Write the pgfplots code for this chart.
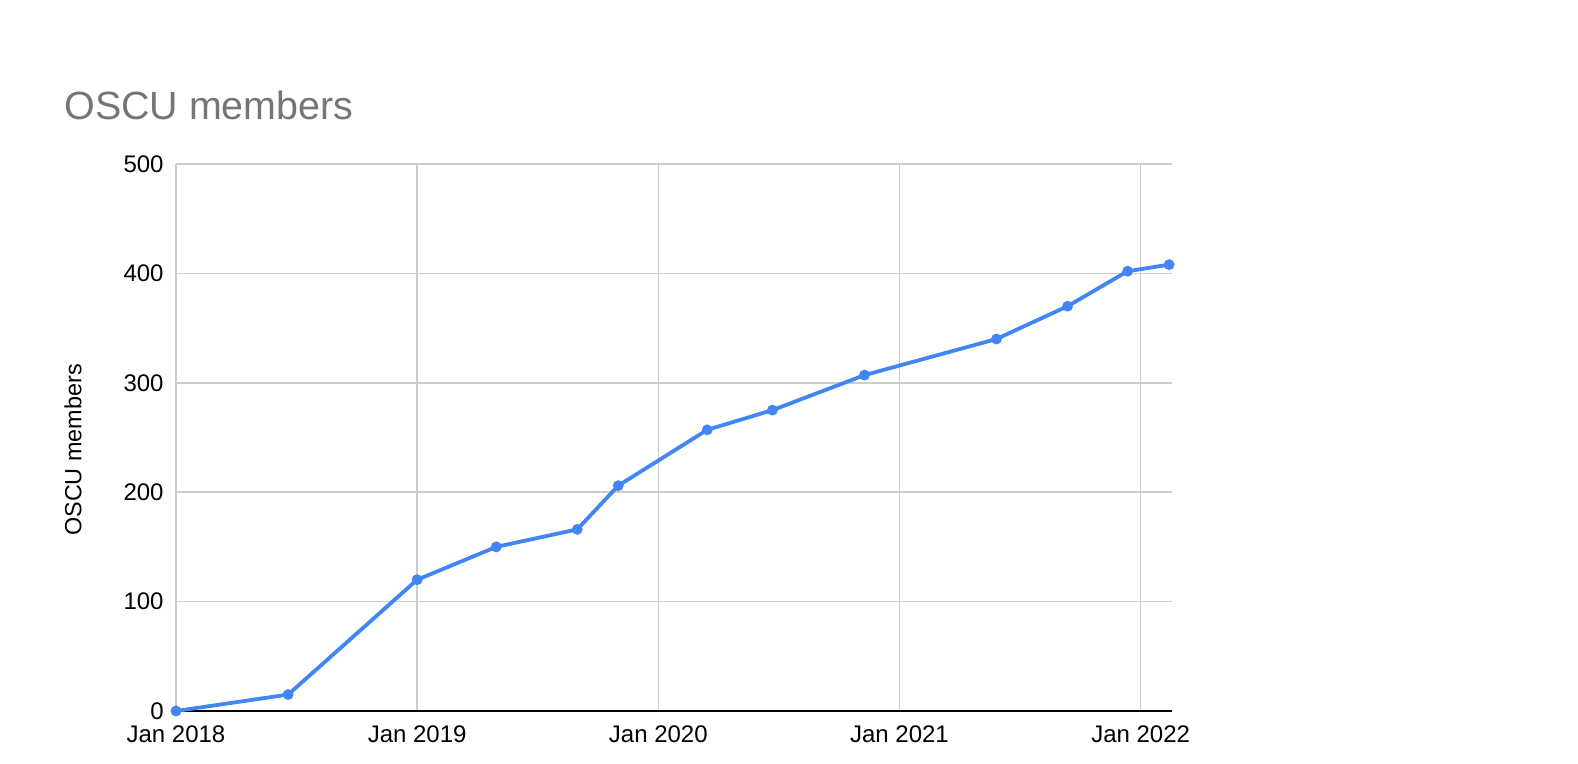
\documentclass[border=0pt]{standalone}
\usepackage{pgfplots}
\pgfplotsset{compat=1.18}
\usepackage{fontspec}
\setmainfont{Liberation Sans}
\definecolor{lineblue}{HTML}{4285F4}
\definecolor{gridgray}{HTML}{CCCCCC}
\definecolor{titlegray}{HTML}{757575}
\begin{document}
\begin{tikzpicture}
\path[use as bounding box] (-88pt,-26.5pt) rectangle (701pt,355.5pt);
\begin{axis}[
  at={(0,0)}, anchor=south west,
  scale only axis, width=498pt, height=273.5pt,
  xmin=2018, xmax=2022.13, ymin=0, ymax=500,
  xtick={2018,2019,2020,2021,2022},
  xticklabels={Jan 2018,Jan 2019,Jan 2020,Jan 2021,Jan 2022},
  ytick={0,100,...,500},
  grid=major,
  major grid style={gridgray, line width=0.8pt},
  axis x line*=bottom, axis y line*=left,
  x axis line style={black, line width=0.8pt},
  y axis line style={draw=none},
  major tick length=0pt,
  /pgf/number format/assume math mode=true,
  tick label style={font=\fontsize{12}{14}\selectfont},
  yticklabel style={anchor=east, inner sep=0pt, xshift=-6pt},
  xticklabel style={anchor=north, inner sep=0pt, yshift=-7pt},
  clip=false,
]
\addplot [color=lineblue, line width=1.9pt, mark=*, mark size=1.7pt]
  coordinates {
    (2018.000, 0) (2018.465, 15) (2019.000, 120) (2019.328, 150)
    (2019.664, 166) (2019.834, 206) (2020.203, 257) (2020.473, 275)
    (2020.855, 307) (2021.402, 340) (2021.697, 370) (2021.946, 402)
    (2022.118, 408)
  };
\end{axis}
\node[anchor=base west, inner sep=0pt, text=titlegray,
  font=\fontsize{19.7}{23}\selectfont] at (-56pt,295.5pt) {OSCU members};
\node[rotate=90, inner sep=0pt, font=\fontsize{11.7}{14}\selectfont]
  at (-51.5pt,130.5pt) {OSCU members};
\end{tikzpicture}
\end{document}
